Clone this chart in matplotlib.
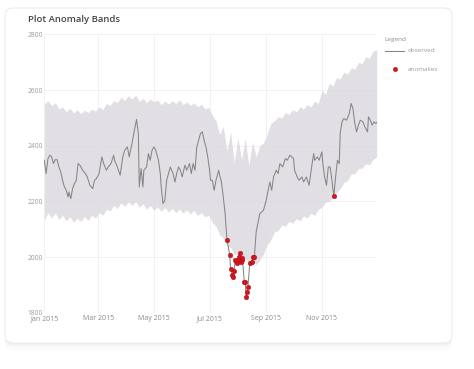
import numpy as np
import matplotlib

matplotlib.use("Agg")
import matplotlib.pyplot as plt
from matplotlib.patches import FancyBboxPatch
from matplotlib.lines import Line2D
from matplotlib.transforms import IdentityTransform

plt.rcParams["font.family"] = ["Open Sans", "DejaVu Sans"]

START = np.datetime64("2015-01-01")

# observed series (day offset from 2015-01-01, value)
obs_day = [
    0, 2, 4, 6, 8, 10, 12, 14, 16, 18, 20, 22, 24, 26, 27, 29, 31, 33, 35, 37,
    39, 42, 45, 47, 50, 53, 55, 57, 60, 63, 65, 68, 70, 73, 76, 77, 80, 83, 86, 88,
    91, 93, 96, 98, 101, 103, 104, 106, 108, 109, 112, 114, 116, 118, 120, 122, 125, 127, 128, 130,
    132, 134, 136, 138, 141, 143, 145, 147, 149, 151, 154, 156, 159, 161, 163, 165, 167, 169, 171, 173,
    175, 177, 179, 181, 182, 184, 186, 188, 191, 192, 194, 196, 198, 200, 203, 204, 206, 207, 208, 209,
    210, 211, 212, 213, 214, 215, 216, 217, 219, 220, 221, 222, 223, 225, 227, 229, 230, 232, 236, 240,
    243, 247, 249, 251, 254, 256, 258, 261, 264, 266, 269, 273, 274, 277, 279, 282, 284, 287, 290, 293,
    295, 296, 299, 301, 304, 305, 307, 309, 311, 313, 315, 317, 319, 321, 323, 324, 326, 328, 331, 334,
    336, 338, 340, 342, 344, 346, 349, 351, 354, 355, 357, 359, 361, 363, 364,
]
obs_value = [
    2348, 2300, 2354, 2366, 2360, 2336, 2350, 2350, 2324, 2306, 2276, 2252, 2240, 2216, 2234, 2210, 2246, 2264, 2276, 2336,
    2330, 2312, 2300, 2288, 2258, 2246, 2276, 2282, 2300, 2360, 2336, 2312, 2324, 2336, 2366, 2348, 2324, 2294, 2360, 2384,
    2396, 2360, 2408, 2444, 2495, 2444, 2252, 2318, 2252, 2312, 2324, 2372, 2348, 2384, 2396, 2384, 2348, 2300, 2252, 2192,
    2204, 2276, 2300, 2324, 2300, 2270, 2300, 2324, 2312, 2288, 2330, 2312, 2336, 2300, 2336, 2312, 2396, 2420, 2444, 2450,
    2420, 2396, 2360, 2312, 2276, 2276, 2240, 2276, 2312, 2294, 2270, 2216, 2156, 2063, 2009, 1958, 1936, 1927, 1949, 1991,
    1986, 1977, 1991, 2001, 2013, 1983, 1991, 1995, 1910, 1911, 1857, 1874, 1893, 1977, 1982, 1999, 1999, 2090, 2156, 2168,
    2204, 2270, 2240, 2288, 2312, 2300, 2336, 2324, 2354, 2348, 2366, 2354, 2312, 2288, 2276, 2288, 2270, 2288, 2258, 2330,
    2372, 2348, 2360, 2348, 2378, 2336, 2288, 2258, 2324, 2324, 2276, 2218, 2288, 2348, 2336, 2444, 2486, 2498, 2492, 2516,
    2552, 2534, 2480, 2450, 2474, 2492, 2486, 2468, 2450, 2504, 2492, 2474, 2486, 2480, 2484,
]

# days flagged as anomalies
anomaly_day = [
    200, 203, 204, 206, 207, 208, 209, 210, 211, 212, 213, 214, 215, 216, 217,
    219, 220, 221, 222, 223, 225, 227, 229, 230, 317,
]

# band edges, every 4 days
band_day = list(range(0, 365, 4))
band_upper = [
    2550, 2562, 2545, 2555, 2532, 2540, 2522, 2535, 2518, 2530, 2515, 2528, 2520, 2532, 2525, 2540,
    2530, 2552, 2545, 2562, 2555, 2575, 2562, 2580, 2568, 2582, 2560, 2570, 2555, 2568, 2558, 2565,
    2548, 2560, 2550, 2562, 2552, 2565, 2548, 2558, 2545, 2555, 2540, 2550, 2532, 2538, 2510, 2490,
    2440, 2470, 2380, 2450, 2340, 2430, 2350, 2425, 2330, 2415, 2360, 2400, 2410, 2440, 2480, 2490,
    2505, 2500, 2520, 2512, 2530, 2522, 2540, 2532, 2548, 2540, 2560, 2552, 2600, 2585, 2625, 2615,
    2645, 2640, 2665, 2658, 2680, 2675, 2700, 2695, 2720, 2715, 2740, 2745,
]
band_lower = [
    2130, 2160, 2140, 2158, 2135, 2150, 2130, 2145, 2125, 2140, 2128, 2145, 2132, 2150, 2140, 2160,
    2150, 2172, 2165, 2185, 2175, 2195, 2182, 2198, 2185, 2200, 2180, 2192, 2172, 2185, 2168, 2180,
    2165, 2178, 2162, 2175, 2160, 2172, 2158, 2170, 2155, 2168, 2150, 2160, 2145, 2150, 2125, 2110,
    2080, 2070, 2040, 2035, 2010, 2010, 1992, 1995, 1980, 1985, 1972, 1990, 2010, 2045, 2060, 2090,
    2095, 2115, 2110, 2128, 2122, 2138, 2130, 2148, 2140, 2158, 2150, 2172, 2178, 2198, 2200, 2212,
    2232, 2245, 2268, 2275, 2298, 2300, 2318, 2320, 2335, 2332, 2350, 2360,
]

y_ticks = [1800, 2000, 2200, 2400, 2600, 2800]
x_tick_dates = ["2015-01-01", "2015-03-01", "2015-05-01", "2015-07-01", "2015-09-01", "2015-11-01"]
x_tick_labels = ["Jan 2015", "Mar 2015", "May 2015", "Jul 2015", "Sep 2015", "Nov 2015"]


def to_dates(days):
    return START + np.asarray(days).astype("timedelta64[D]")


W, H = 474, 369
fig = plt.figure(figsize=(W / 100, H / 100), dpi=100)

# card with soft shadow (drawn behind the axes)
for i, a in enumerate([0.05, 0.035, 0.02, 0.012]):
    fig.add_artist(FancyBboxPatch((5, 26 - 2 * (i + 1)), 447, 335, boxstyle="round,pad=0,rounding_size=8",
                                  transform=IdentityTransform(), facecolor="#9a9a9a", edgecolor="none",
                                  alpha=a, zorder=-3))
fig.add_artist(FancyBboxPatch((5, 26), 447, 335, boxstyle="round,pad=0,rounding_size=8",
                              transform=IdentityTransform(), facecolor="white", edgecolor="#ececec",
                              lw=0.8, zorder=-2))

ax = fig.add_axes([44.3 / W, 1 - 312.7 / H, 332.4 / W, 278.2 / H])
ax.set_facecolor("none")

obs_x = to_dates(obs_day)
obs_y = np.asarray(obs_value, dtype=float)
band_x = to_dates(band_day)

ax.fill_between(band_x, band_lower, band_upper, color="#d8d3da", alpha=0.72, lw=0, zorder=2)
ax.plot(obs_x, obs_y, color="#858585", lw=0.75, zorder=3)

mask = np.isin(obs_day, anomaly_day)
ax.scatter(obs_x[mask], obs_y[mask], s=11, color="#d2161e", edgecolor="#b01016", lw=0.3, zorder=4)

ax.set_xlim(START, np.datetime64("2015-12-31"))
ax.set_ylim(1800, 2800)
ax.set_yticks(y_ticks)
ax.set_yticklabels([str(v) for v in y_ticks])
ax.set_xticks(np.array(x_tick_dates, dtype="datetime64[D]"))
ax.set_xticklabels(x_tick_labels)
ax.tick_params(axis="y", length=0, pad=1.2, labelsize=4.8, labelcolor="#9a9a9a")
ax.tick_params(axis="x", length=0, pad=1.5, labelsize=5, labelcolor="#8a8a8a")
ax.grid(True, color="#efeff1", lw=0.6, zorder=1)
ax.set_axisbelow(True)
for s in ax.spines.values():
    s.set_visible(False)

fig.text(28 / W, 1 - 19 / H, "Plot Anomaly Bands", fontsize=6.8, fontweight="semibold",
         color="#454545", ha="left", va="center")

# legend
fig.text(384 / W, 1 - 39.3 / H, "Legend", fontsize=4.6, color="#8c8c8c", ha="left", va="center")
fig.add_artist(Line2D([385 / W, 404 / W], [1 - 50.7 / H] * 2, color="#858585", lw=0.75,
                      transform=fig.transFigure))
fig.text(407.5 / W, 1 - 50.7 / H, "observed", fontsize=4.6, color="#9a9a9a", ha="left", va="center")
fig.add_artist(Line2D([395 / W], [1 - 69.3 / H], marker="o", markersize=3.2, color="#d2161e",
                      markeredgecolor="#b01016", markeredgewidth=0.3, lw=0, transform=fig.transFigure))
fig.text(407.5 / W, 1 - 69.3 / H, "anomalies", fontsize=4.6, color="#9a9a9a", ha="left", va="center")

fig.savefig("out.png", dpi=100)
